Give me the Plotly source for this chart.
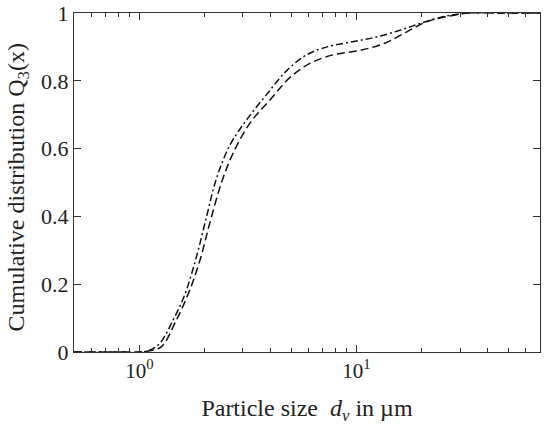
import plotly.graph_objects as go

# particle size in micrometres and cumulative distribution Q3
size_a = [0.5, 0.8, 1.0, 1.1, 1.24, 1.43, 1.62, 1.83, 2.04, 2.26, 2.61, 3.12, 3.86,
          4.77, 5.91, 7.32, 9.72, 12.5, 16.0, 19.8, 25.4, 32.6, 45.0, 70.0]
q3_a = [0.0, 0.0, 0.0, 0.004, 0.025, 0.094, 0.17, 0.28, 0.40, 0.51, 0.61, 0.685, 0.76,
        0.83, 0.877, 0.90, 0.916, 0.93, 0.95, 0.97, 0.99, 1.0, 1.0, 1.0]

size_b = [0.5, 0.8, 1.0, 1.1, 1.26, 1.48, 1.70, 1.90, 2.11, 2.39, 2.70, 3.23, 4.0,
          4.94, 6.13, 7.85, 10.4, 13.4, 17.2, 21.2, 26.3, 33.0, 45.0, 70.0]
q3_b = [0.0, 0.0, 0.0, 0.003, 0.015, 0.094, 0.18, 0.27, 0.38, 0.50, 0.586, 0.675, 0.744,
        0.81, 0.852, 0.877, 0.89, 0.91, 0.946, 0.975, 0.99, 1.0, 1.0, 1.0]

x_ticks = [1, 10]
x_ticklabels = ["10<sup>0</sup>", "10<sup>1</sup>"]
x_minor = [0.5, 0.6, 0.7, 0.8, 0.9, 2, 3, 4, 5, 6, 7, 8, 9, 20, 30, 40, 50, 60, 70]
y_ticks = [0, 0.2, 0.4, 0.6, 0.8, 1]
y_ticklabels = ["0", "0.2", "0.4", "0.6", "0.8", "1"]

fig = go.Figure()
fig.add_trace(go.Scatter(x=size_a, y=q3_a, mode="lines", line_shape="spline",
                         line=dict(color="#111", width=1.5, dash="7px,3px,2px,3px")))
fig.add_trace(go.Scatter(x=size_b, y=q3_b, mode="lines", line_shape="spline",
                         line=dict(color="#111", width=1.5, dash="8px,4px")))

fig.update_layout(
    width=550, height=429,
    margin=dict(l=74, r=10, t=13, b=77),
    plot_bgcolor="white", paper_bgcolor="white",
    showlegend=False,
    font=dict(family="Liberation Serif", size=22, color="#222"),
    xaxis=dict(type="log", range=[-0.301, 1.845], automargin=False,
               tickvals=x_ticks, ticktext=x_ticklabels, tickfont=dict(size=21),
               ticks="inside", ticklen=7, tickcolor="#333",
               minor=dict(tickvals=x_minor, ticks="inside", ticklen=4, tickcolor="#333"),
               showline=True, linecolor="#333", linewidth=1, mirror="ticks",
               showgrid=False, zeroline=False,
               title=dict(text="Particle size  <i>d</i><sub><i>v</i></sub> in µm",
                          font=dict(size=24), standoff=16)),
    yaxis=dict(range=[0, 1], automargin=False, ticklabeloverflow="allow",
               tickvals=y_ticks, ticktext=y_ticklabels,
               ticks="inside", ticklen=7, tickcolor="#333",
               showline=True, linecolor="#333", linewidth=1, mirror="ticks",
               showgrid=False, zeroline=False),
)

fig.add_annotation(text="Cumulative distribution Q<sub>3</sub>(x)", textangle=-90,
                   xref="paper", yref="paper", x=0, y=0.5, xanchor="left",
                   yanchor="middle", xshift=-74, yshift=-5, showarrow=False,
                   font=dict(size=24))

# drop the page's default body margin so the figure sits at the window corner
fig.write_html("out.html", config={"displayModeBar": False},
               post_script="document.body.style.margin = '0';")
